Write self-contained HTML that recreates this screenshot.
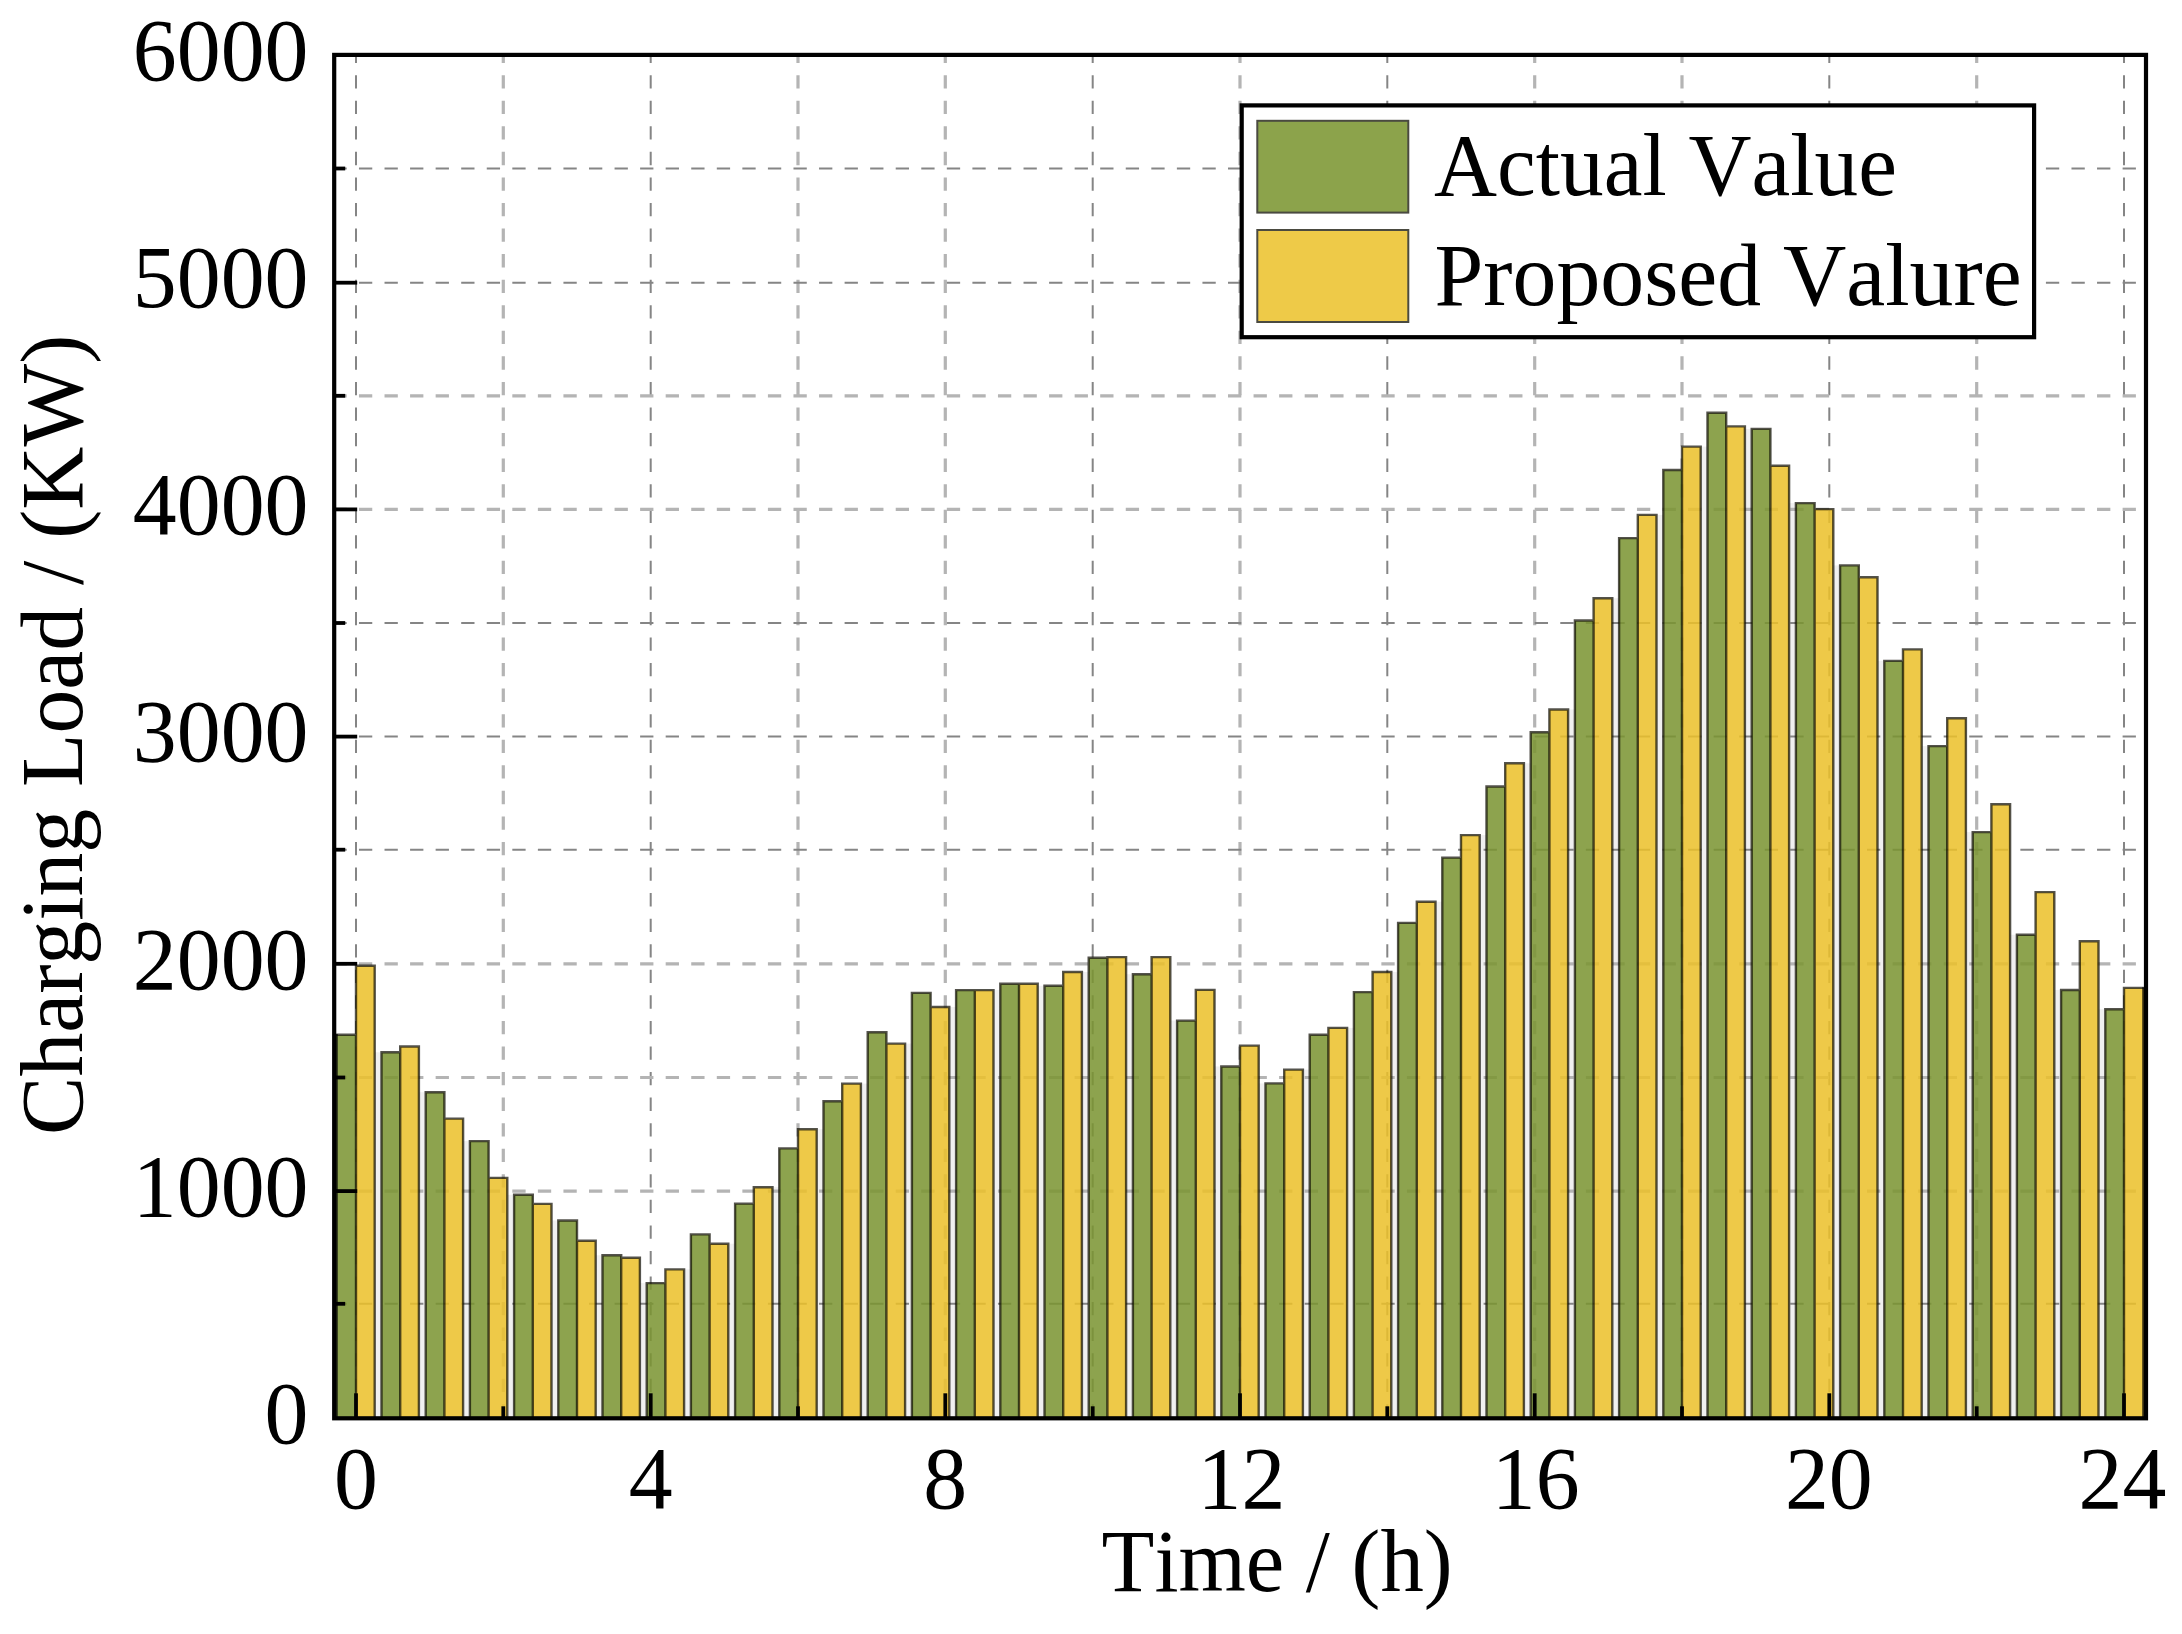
<!DOCTYPE html>
<html lang="en"><head><meta charset="utf-8"><title>Charging Load</title>
<style>html,body{margin:0;padding:0;background:#fff;}body{width:2182px;height:1634px;overflow:hidden;}svg{display:block;}text{font-family:"Liberation Serif","Times New Roman",serif;font-kerning:none;fill:#000;}</style>
</head><body>
<svg width="2182" height="1634" viewBox="0 0 2182 1634">
<rect x="0" y="0" width="2182" height="1634" fill="#ffffff"/>
<clipPath id="pc"><rect x="334.2" y="54.9" width="1811.8" height="1363.4"/></clipPath>
<g fill="#f0f0f0">
<rect x="374.7" y="1052.3" width="6.8" height="366.0"/>
<rect x="418.9" y="1092.2" width="6.8" height="326.1"/>
<rect x="463.1" y="1141.1" width="6.8" height="277.2"/>
<rect x="507.3" y="1194.8" width="6.8" height="223.5"/>
<rect x="551.5" y="1220.5" width="6.8" height="197.8"/>
<rect x="595.7" y="1255.3" width="6.8" height="163.0"/>
<rect x="639.9" y="1283.1" width="6.8" height="135.2"/>
<rect x="684.1" y="1269.4" width="6.8" height="148.9"/>
<rect x="728.3" y="1243.7" width="6.8" height="174.6"/>
<rect x="772.5" y="1187.2" width="6.8" height="231.1"/>
<rect x="816.7" y="1129.2" width="6.8" height="289.1"/>
<rect x="860.9" y="1083.6" width="6.8" height="334.7"/>
<rect x="905.1" y="1043.6" width="6.8" height="374.7"/>
<rect x="949.3" y="1007.0" width="6.8" height="411.3"/>
<rect x="993.5" y="990.1" width="6.8" height="428.2"/>
<rect x="1037.7" y="985.8" width="6.8" height="432.5"/>
<rect x="1081.9" y="972.0" width="6.8" height="446.3"/>
<rect x="1126.1" y="974.2" width="6.8" height="444.1"/>
<rect x="1170.3" y="1020.6" width="6.8" height="397.7"/>
<rect x="1214.5" y="1066.5" width="6.8" height="351.8"/>
<rect x="1258.7" y="1083.4" width="6.8" height="334.9"/>
<rect x="1302.9" y="1069.6" width="6.8" height="348.7"/>
<rect x="1347.1" y="1027.9" width="6.8" height="390.4"/>
<rect x="1391.3" y="972.0" width="6.8" height="446.3"/>
<rect x="1435.5" y="901.7" width="6.8" height="516.6"/>
<rect x="1479.7" y="835.1" width="6.8" height="583.2"/>
<rect x="1523.9" y="763.3" width="6.8" height="655.0"/>
<rect x="1568.1" y="709.5" width="6.8" height="708.8"/>
<rect x="1612.3" y="598.2" width="6.8" height="820.1"/>
<rect x="1656.5" y="514.9" width="6.8" height="903.4"/>
<rect x="1700.7" y="446.6" width="6.8" height="971.7"/>
<rect x="1744.9" y="428.9" width="6.8" height="989.4"/>
<rect x="1789.1" y="503.1" width="6.8" height="915.2"/>
<rect x="1833.3" y="565.4" width="6.8" height="852.9"/>
<rect x="1877.5" y="660.9" width="6.8" height="757.4"/>
<rect x="1921.7" y="746.1" width="6.8" height="672.2"/>
<rect x="1965.9" y="832.1" width="6.8" height="586.2"/>
<rect x="2010.1" y="934.7" width="6.8" height="483.6"/>
<rect x="2054.3" y="990.0" width="6.8" height="428.3"/>
<rect x="2098.5" y="1009.2" width="6.8" height="409.1"/>
</g>
<g fill="none" stroke-dasharray="13.3 12.26" stroke-dashoffset="0.8">
<line x1="356.0" y1="1418.3" x2="356.0" y2="54.9" stroke="#858585" stroke-width="2.0" stroke-dashoffset="-0.7"/>
<line x1="503.3" y1="1418.3" x2="503.3" y2="54.9" stroke="#b4b4b4" stroke-width="3.2" stroke-dashoffset="-0.7"/>
<line x1="650.7" y1="1418.3" x2="650.7" y2="54.9" stroke="#858585" stroke-width="2.0" stroke-dashoffset="-0.7"/>
<line x1="798.0" y1="1418.3" x2="798.0" y2="54.9" stroke="#b4b4b4" stroke-width="3.2" stroke-dashoffset="-0.7"/>
<line x1="945.3" y1="1418.3" x2="945.3" y2="54.9" stroke="#b4b4b4" stroke-width="3.2" stroke-dashoffset="-0.7"/>
<line x1="1092.7" y1="1418.3" x2="1092.7" y2="54.9" stroke="#858585" stroke-width="2.0" stroke-dashoffset="-0.7"/>
<line x1="1240.0" y1="1418.3" x2="1240.0" y2="54.9" stroke="#b4b4b4" stroke-width="3.2" stroke-dashoffset="-0.7"/>
<line x1="1387.3" y1="1418.3" x2="1387.3" y2="54.9" stroke="#858585" stroke-width="2.0" stroke-dashoffset="-0.7"/>
<line x1="1534.7" y1="1418.3" x2="1534.7" y2="54.9" stroke="#b4b4b4" stroke-width="3.2" stroke-dashoffset="-0.7"/>
<line x1="1682.0" y1="1418.3" x2="1682.0" y2="54.9" stroke="#b4b4b4" stroke-width="3.2" stroke-dashoffset="-0.7"/>
<line x1="1829.3" y1="1418.3" x2="1829.3" y2="54.9" stroke="#858585" stroke-width="2.0" stroke-dashoffset="-0.7"/>
<line x1="1976.7" y1="1418.3" x2="1976.7" y2="54.9" stroke="#b4b4b4" stroke-width="3.2" stroke-dashoffset="-0.7"/>
<line x1="2124.0" y1="1418.3" x2="2124.0" y2="54.9" stroke="#858585" stroke-width="2.0" stroke-dashoffset="-0.7"/>
<line x1="334.2" y1="1303.8" x2="2146.0" y2="1303.8" stroke="#858585" stroke-width="2.0"/>
<line x1="334.2" y1="1191.1" x2="2146.0" y2="1191.1" stroke="#b4b4b4" stroke-width="3.2"/>
<line x1="334.2" y1="1077.5" x2="2146.0" y2="1077.5" stroke="#b4b4b4" stroke-width="3.2"/>
<line x1="334.2" y1="963.8" x2="2146.0" y2="963.8" stroke="#b4b4b4" stroke-width="3.2"/>
<line x1="334.2" y1="849.7" x2="2146.0" y2="849.7" stroke="#858585" stroke-width="2.0"/>
<line x1="334.2" y1="736.6" x2="2146.0" y2="736.6" stroke="#858585" stroke-width="2.0"/>
<line x1="334.2" y1="623.0" x2="2146.0" y2="623.0" stroke="#858585" stroke-width="2.0"/>
<line x1="334.2" y1="509.4" x2="2146.0" y2="509.4" stroke="#b4b4b4" stroke-width="3.2"/>
<line x1="334.2" y1="395.8" x2="2146.0" y2="395.8" stroke="#b4b4b4" stroke-width="3.2"/>
<line x1="334.2" y1="282.7" x2="2146.0" y2="282.7" stroke="#858585" stroke-width="2.0"/>
<line x1="334.2" y1="168.5" x2="2146.0" y2="168.5" stroke="#858585" stroke-width="2.0"/>
</g>
<g clip-path="url(#pc)">
<g stroke="none" fill-opacity="0.86">
<rect x="334.0" y="1035.1" width="22.0" height="384.2" fill="#7a9431"/>
<rect x="356.0" y="966.2" width="18.7" height="453.1" fill="#ebc02a"/>
<rect x="381.5" y="1052.7" width="18.7" height="366.6" fill="#7a9431"/>
<rect x="400.2" y="1046.9" width="18.7" height="372.4" fill="#ebc02a"/>
<rect x="425.7" y="1092.6" width="18.7" height="326.7" fill="#7a9431"/>
<rect x="444.4" y="1119.0" width="18.7" height="300.3" fill="#ebc02a"/>
<rect x="469.9" y="1141.5" width="18.7" height="277.8" fill="#7a9431"/>
<rect x="488.6" y="1178.3" width="18.7" height="241.0" fill="#ebc02a"/>
<rect x="514.1" y="1195.2" width="18.7" height="224.1" fill="#7a9431"/>
<rect x="532.8" y="1204.3" width="18.7" height="215.0" fill="#ebc02a"/>
<rect x="558.3" y="1220.9" width="18.7" height="198.4" fill="#7a9431"/>
<rect x="577.0" y="1241.1" width="18.7" height="178.2" fill="#ebc02a"/>
<rect x="602.5" y="1255.7" width="18.7" height="163.6" fill="#7a9431"/>
<rect x="621.2" y="1258.2" width="18.7" height="161.1" fill="#ebc02a"/>
<rect x="646.7" y="1283.5" width="18.7" height="135.8" fill="#7a9431"/>
<rect x="665.4" y="1269.8" width="18.7" height="149.5" fill="#ebc02a"/>
<rect x="690.9" y="1234.8" width="18.7" height="184.5" fill="#7a9431"/>
<rect x="709.6" y="1244.1" width="18.7" height="175.2" fill="#ebc02a"/>
<rect x="735.1" y="1204.0" width="18.7" height="215.3" fill="#7a9431"/>
<rect x="753.8" y="1187.6" width="18.7" height="231.7" fill="#ebc02a"/>
<rect x="779.3" y="1148.8" width="18.7" height="270.5" fill="#7a9431"/>
<rect x="798.0" y="1129.6" width="18.7" height="289.7" fill="#ebc02a"/>
<rect x="823.5" y="1101.6" width="18.7" height="317.7" fill="#7a9431"/>
<rect x="842.2" y="1084.0" width="18.7" height="335.3" fill="#ebc02a"/>
<rect x="867.7" y="1032.6" width="18.7" height="386.7" fill="#7a9431"/>
<rect x="886.4" y="1044.0" width="18.7" height="375.3" fill="#ebc02a"/>
<rect x="911.9" y="993.3" width="18.7" height="426.0" fill="#7a9431"/>
<rect x="930.6" y="1007.4" width="18.7" height="411.9" fill="#ebc02a"/>
<rect x="956.1" y="990.5" width="18.7" height="428.8" fill="#7a9431"/>
<rect x="974.8" y="990.5" width="18.7" height="428.8" fill="#ebc02a"/>
<rect x="1000.3" y="984.2" width="18.7" height="435.1" fill="#7a9431"/>
<rect x="1019.0" y="984.2" width="18.7" height="435.1" fill="#ebc02a"/>
<rect x="1044.5" y="986.2" width="18.7" height="433.1" fill="#7a9431"/>
<rect x="1063.2" y="972.4" width="18.7" height="446.9" fill="#ebc02a"/>
<rect x="1088.7" y="958.2" width="18.7" height="461.1" fill="#7a9431"/>
<rect x="1107.4" y="957.5" width="18.7" height="461.8" fill="#ebc02a"/>
<rect x="1132.9" y="974.6" width="18.7" height="444.7" fill="#7a9431"/>
<rect x="1151.6" y="957.5" width="18.7" height="461.8" fill="#ebc02a"/>
<rect x="1177.1" y="1021.0" width="18.7" height="398.3" fill="#7a9431"/>
<rect x="1195.8" y="990.3" width="18.7" height="429.0" fill="#ebc02a"/>
<rect x="1221.3" y="1066.9" width="18.7" height="352.4" fill="#7a9431"/>
<rect x="1240.0" y="1046.0" width="18.7" height="373.3" fill="#ebc02a"/>
<rect x="1265.5" y="1083.8" width="18.7" height="335.5" fill="#7a9431"/>
<rect x="1284.2" y="1070.0" width="18.7" height="349.3" fill="#ebc02a"/>
<rect x="1309.7" y="1035.2" width="18.7" height="384.1" fill="#7a9431"/>
<rect x="1328.4" y="1028.3" width="18.7" height="391.0" fill="#ebc02a"/>
<rect x="1353.9" y="992.5" width="18.7" height="426.8" fill="#7a9431"/>
<rect x="1372.6" y="972.4" width="18.7" height="446.9" fill="#ebc02a"/>
<rect x="1398.1" y="923.3" width="18.7" height="496.0" fill="#7a9431"/>
<rect x="1416.8" y="902.1" width="18.7" height="517.2" fill="#ebc02a"/>
<rect x="1442.3" y="858.0" width="18.7" height="561.3" fill="#7a9431"/>
<rect x="1461.0" y="835.5" width="18.7" height="583.8" fill="#ebc02a"/>
<rect x="1486.5" y="786.9" width="18.7" height="632.4" fill="#7a9431"/>
<rect x="1505.2" y="763.7" width="18.7" height="655.6" fill="#ebc02a"/>
<rect x="1530.7" y="732.6" width="18.7" height="686.7" fill="#7a9431"/>
<rect x="1549.4" y="709.9" width="18.7" height="709.4" fill="#ebc02a"/>
<rect x="1574.9" y="620.9" width="18.7" height="798.4" fill="#7a9431"/>
<rect x="1593.6" y="598.6" width="18.7" height="820.7" fill="#ebc02a"/>
<rect x="1619.1" y="538.5" width="18.7" height="880.8" fill="#7a9431"/>
<rect x="1637.8" y="515.3" width="18.7" height="904.0" fill="#ebc02a"/>
<rect x="1663.3" y="470.4" width="18.7" height="948.9" fill="#7a9431"/>
<rect x="1682.0" y="447.0" width="18.7" height="972.3" fill="#ebc02a"/>
<rect x="1707.5" y="413.2" width="18.7" height="1006.1" fill="#7a9431"/>
<rect x="1726.2" y="426.8" width="18.7" height="992.5" fill="#ebc02a"/>
<rect x="1751.7" y="429.3" width="18.7" height="990.0" fill="#7a9431"/>
<rect x="1770.4" y="466.1" width="18.7" height="953.2" fill="#ebc02a"/>
<rect x="1795.9" y="503.5" width="18.7" height="915.8" fill="#7a9431"/>
<rect x="1814.6" y="509.5" width="18.7" height="909.8" fill="#ebc02a"/>
<rect x="1840.1" y="565.8" width="18.7" height="853.5" fill="#7a9431"/>
<rect x="1858.8" y="577.7" width="18.7" height="841.6" fill="#ebc02a"/>
<rect x="1884.3" y="661.3" width="18.7" height="758.0" fill="#7a9431"/>
<rect x="1903.0" y="649.8" width="18.7" height="769.5" fill="#ebc02a"/>
<rect x="1928.5" y="746.5" width="18.7" height="672.8" fill="#7a9431"/>
<rect x="1947.2" y="718.7" width="18.7" height="700.6" fill="#ebc02a"/>
<rect x="1972.7" y="832.5" width="18.7" height="586.8" fill="#7a9431"/>
<rect x="1991.4" y="804.7" width="18.7" height="614.6" fill="#ebc02a"/>
<rect x="2016.9" y="935.1" width="18.7" height="484.2" fill="#7a9431"/>
<rect x="2035.6" y="892.5" width="18.7" height="526.8" fill="#ebc02a"/>
<rect x="2061.1" y="990.4" width="18.7" height="428.9" fill="#7a9431"/>
<rect x="2079.8" y="941.7" width="18.7" height="477.6" fill="#ebc02a"/>
<rect x="2105.3" y="1009.6" width="18.7" height="409.7" fill="#7a9431"/>
<rect x="2124.0" y="988.3" width="22.0" height="431.0" fill="#ebc02a"/>
</g>
<path d="M356.0 1418.3V967.0M374.7 1418.3V967.0M336.1 1034.7H354.8M354.8 965.8H375.9M381.5 1418.3V1053.5M400.2 1418.3V1047.7M418.9 1418.3V1047.7M380.3 1052.3H399.0M399.0 1046.5H420.1M425.7 1418.3V1093.4M444.4 1418.3V1093.4M463.1 1418.3V1119.8M424.5 1092.2H445.6M445.6 1118.6H464.3M469.9 1418.3V1142.3M488.6 1418.3V1142.3M507.3 1418.3V1179.1M468.7 1141.1H489.8M489.8 1177.9H508.5M514.1 1418.3V1196.0M532.8 1418.3V1196.0M551.5 1418.3V1205.1M512.9 1194.8H534.0M534.0 1203.9H552.7M558.3 1418.3V1221.7M577.0 1418.3V1221.7M595.7 1418.3V1241.9M557.1 1220.5H578.2M578.2 1240.7H596.9M602.5 1418.3V1256.5M621.2 1418.3V1256.5M639.9 1418.3V1259.0M601.3 1255.3H622.4M622.4 1257.8H641.1M646.7 1418.3V1284.3M665.4 1418.3V1270.6M684.1 1418.3V1270.6M645.5 1283.1H664.2M664.2 1269.4H685.3M690.9 1418.3V1235.6M709.6 1418.3V1235.6M728.3 1418.3V1244.9M689.7 1234.4H710.8M710.8 1243.7H729.5M735.1 1418.3V1204.8M753.8 1418.3V1188.4M772.5 1418.3V1188.4M733.9 1203.6H752.6M752.6 1187.2H773.7M779.3 1418.3V1149.6M798.0 1418.3V1130.4M816.7 1418.3V1130.4M778.1 1148.4H796.8M796.8 1129.2H817.9M823.5 1418.3V1102.4M842.2 1418.3V1084.8M860.9 1418.3V1084.8M822.3 1101.2H841.0M841.0 1083.6H862.1M867.7 1418.3V1033.4M886.4 1418.3V1033.4M905.1 1418.3V1044.8M866.5 1032.2H887.6M887.6 1043.6H906.3M911.9 1418.3V994.1M930.6 1418.3V994.1M949.3 1418.3V1008.2M910.7 992.9H931.8M931.8 1007.0H950.5M956.1 1418.3V991.3M974.8 1418.3V991.3M993.5 1418.3V991.3M954.9 990.1H994.7M1000.3 1418.3V985.0M1019.0 1418.3V985.0M1037.7 1418.3V985.0M999.1 983.8H1038.9M1044.5 1418.3V987.0M1063.2 1418.3V973.2M1081.9 1418.3V973.2M1043.3 985.8H1062.0M1062.0 972.0H1083.1M1088.7 1418.3V959.0M1107.4 1418.3V958.3M1126.1 1418.3V958.3M1087.5 957.8H1106.2M1106.2 957.1H1127.3M1132.9 1418.3V975.4M1151.6 1418.3V958.3M1170.3 1418.3V958.3M1131.7 974.2H1150.4M1150.4 957.1H1171.5M1177.1 1418.3V1021.8M1195.8 1418.3V991.1M1214.5 1418.3V991.1M1175.9 1020.6H1194.6M1194.6 989.9H1215.7M1221.3 1418.3V1067.7M1240.0 1418.3V1046.8M1258.7 1418.3V1046.8M1220.1 1066.5H1238.8M1238.8 1045.6H1259.9M1265.5 1418.3V1084.6M1284.2 1418.3V1070.8M1302.9 1418.3V1070.8M1264.3 1083.4H1283.0M1283.0 1069.6H1304.1M1309.7 1418.3V1036.0M1328.4 1418.3V1029.1M1347.1 1418.3V1029.1M1308.5 1034.8H1327.2M1327.2 1027.9H1348.3M1353.9 1418.3V993.3M1372.6 1418.3V973.2M1391.3 1418.3V973.2M1352.7 992.1H1371.4M1371.4 972.0H1392.5M1398.1 1418.3V924.1M1416.8 1418.3V902.9M1435.5 1418.3V902.9M1396.9 922.9H1415.6M1415.6 901.7H1436.7M1442.3 1418.3V858.8M1461.0 1418.3V836.3M1479.7 1418.3V836.3M1441.1 857.6H1459.8M1459.8 835.1H1480.9M1486.5 1418.3V787.7M1505.2 1418.3V764.5M1523.9 1418.3V764.5M1485.3 786.5H1504.0M1504.0 763.3H1525.1M1530.7 1418.3V733.4M1549.4 1418.3V710.7M1568.1 1418.3V710.7M1529.5 732.2H1548.2M1548.2 709.5H1569.3M1574.9 1418.3V621.7M1593.6 1418.3V599.4M1612.3 1418.3V599.4M1573.7 620.5H1592.4M1592.4 598.2H1613.5M1619.1 1418.3V539.3M1637.8 1418.3V516.1M1656.5 1418.3V516.1M1617.9 538.1H1636.6M1636.6 514.9H1657.7M1663.3 1418.3V471.2M1682.0 1418.3V447.8M1700.7 1418.3V447.8M1662.1 470.0H1680.8M1680.8 446.6H1701.9M1707.5 1418.3V414.0M1726.2 1418.3V414.0M1744.9 1418.3V427.6M1706.3 412.8H1727.4M1727.4 426.4H1746.1M1751.7 1418.3V430.1M1770.4 1418.3V430.1M1789.1 1418.3V466.9M1750.5 428.9H1771.6M1771.6 465.7H1790.3M1795.9 1418.3V504.3M1814.6 1418.3V504.3M1833.3 1418.3V510.3M1794.7 503.1H1815.8M1815.8 509.1H1834.5M1840.1 1418.3V566.6M1858.8 1418.3V566.6M1877.5 1418.3V578.5M1838.9 565.4H1860.0M1860.0 577.3H1878.7M1884.3 1418.3V662.1M1903.0 1418.3V650.6M1921.7 1418.3V650.6M1883.1 660.9H1901.8M1901.8 649.4H1922.9M1928.5 1418.3V747.3M1947.2 1418.3V719.5M1965.9 1418.3V719.5M1927.3 746.1H1946.0M1946.0 718.3H1967.1M1972.7 1418.3V833.3M1991.4 1418.3V805.5M2010.1 1418.3V805.5M1971.5 832.1H1990.2M1990.2 804.3H2011.3M2016.9 1418.3V935.9M2035.6 1418.3V893.3M2054.3 1418.3V893.3M2015.7 934.7H2034.4M2034.4 892.1H2055.5M2061.1 1418.3V991.2M2079.8 1418.3V942.5M2098.5 1418.3V942.5M2059.9 990.0H2078.6M2078.6 941.3H2099.7M2105.3 1418.3V1010.4M2124.0 1418.3V989.1M2104.1 1009.2H2122.8M2122.8 987.9H2143.9" fill="none" stroke="#0c0a00" stroke-opacity="0.7" stroke-width="2.4"/>
<path d="M336.9 1418.3V1034.1M2143.1 1418.3V987.3" fill="none" stroke="#000" stroke-opacity="0.85" stroke-width="1.6"/>
</g>
<g stroke="#000" stroke-width="3.8" fill="none">
<line x1="334.2" y1="1303.8" x2="345.2" y2="1303.8"/>
<line x1="334.2" y1="1191.1" x2="357.2" y2="1191.1"/>
<line x1="334.2" y1="1077.5" x2="345.2" y2="1077.5"/>
<line x1="334.2" y1="963.8" x2="357.2" y2="963.8"/>
<line x1="334.2" y1="849.7" x2="345.2" y2="849.7"/>
<line x1="334.2" y1="736.6" x2="357.2" y2="736.6"/>
<line x1="334.2" y1="623.0" x2="345.2" y2="623.0"/>
<line x1="334.2" y1="509.4" x2="357.2" y2="509.4"/>
<line x1="334.2" y1="395.8" x2="345.2" y2="395.8"/>
<line x1="334.2" y1="282.7" x2="357.2" y2="282.7"/>
<line x1="334.2" y1="168.5" x2="345.2" y2="168.5"/>
<line x1="356.0" y1="1418.3" x2="356.0" y2="1393.3"/>
<line x1="503.3" y1="1418.3" x2="503.3" y2="1406.3"/>
<line x1="650.7" y1="1418.3" x2="650.7" y2="1393.3"/>
<line x1="798.0" y1="1418.3" x2="798.0" y2="1406.3"/>
<line x1="945.3" y1="1418.3" x2="945.3" y2="1393.3"/>
<line x1="1092.7" y1="1418.3" x2="1092.7" y2="1406.3"/>
<line x1="1240.0" y1="1418.3" x2="1240.0" y2="1393.3"/>
<line x1="1387.3" y1="1418.3" x2="1387.3" y2="1406.3"/>
<line x1="1534.7" y1="1418.3" x2="1534.7" y2="1393.3"/>
<line x1="1682.0" y1="1418.3" x2="1682.0" y2="1406.3"/>
<line x1="1829.3" y1="1418.3" x2="1829.3" y2="1393.3"/>
<line x1="1976.7" y1="1418.3" x2="1976.7" y2="1406.3"/>
<line x1="2124.0" y1="1418.3" x2="2124.0" y2="1393.3"/>
</g>
<rect x="334.2" y="54.9" width="1811.8" height="1363.4" fill="none" stroke="#000" stroke-width="4.2"/>
<g font-size="89.0" text-anchor="end">
<text transform="translate(308.5,1443.0) scale(0.987,1)">0</text>
<text transform="translate(308.5,1215.8) scale(0.987,1)">1000</text>
<text transform="translate(308.5,988.5) scale(0.987,1)">2000</text>
<text transform="translate(308.5,761.3) scale(0.987,1)">3000</text>
<text transform="translate(308.5,534.1) scale(0.987,1)">4000</text>
<text transform="translate(308.5,307.4) scale(0.987,1)">5000</text>
<text transform="translate(308.5,79.6) scale(0.987,1)">6000</text>
</g>
<g font-size="89.0" text-anchor="middle">
<text transform="translate(356.0,1508.2) scale(0.987,1)">0</text>
<text transform="translate(650.7,1508.2) scale(0.987,1)">4</text>
<text transform="translate(945.3,1508.2) scale(0.987,1)">8</text>
<text transform="translate(1241.5,1508.2) scale(0.987,1)">12</text>
<text transform="translate(1535.7,1508.2) scale(0.987,1)">16</text>
<text transform="translate(1828.8,1508.2) scale(0.987,1)">20</text>
<text transform="translate(2122.5,1508.2) scale(0.987,1)">24</text>
</g>
<text x="1101.5" y="1591" font-size="89.0" textLength="351" lengthAdjust="spacingAndGlyphs">Time / (h)</text>
<text transform="translate(81.8,1135) rotate(-90)" font-size="89.0" textLength="800.5" lengthAdjust="spacingAndGlyphs">Charging Load / (KW)</text>
<rect x="1241.7" y="105.4" width="792.4" height="231.8" fill="#fff" stroke="#000" stroke-width="4.2"/>
<rect x="1257.3" y="120.8" width="151" height="91.8" fill="#8ca34b" stroke="#4a4a40" stroke-width="2"/>
<rect x="1257.3" y="230" width="151" height="92" fill="#eeca48" stroke="#4a4a40" stroke-width="2"/>
<text x="1434" y="195.2" font-size="89.0" textLength="463" lengthAdjust="spacingAndGlyphs">Actual Value</text>
<text x="1434.6" y="304.8" font-size="89.0" textLength="587" lengthAdjust="spacingAndGlyphs">Proposed Valure</text>
</svg>
</body></html>
